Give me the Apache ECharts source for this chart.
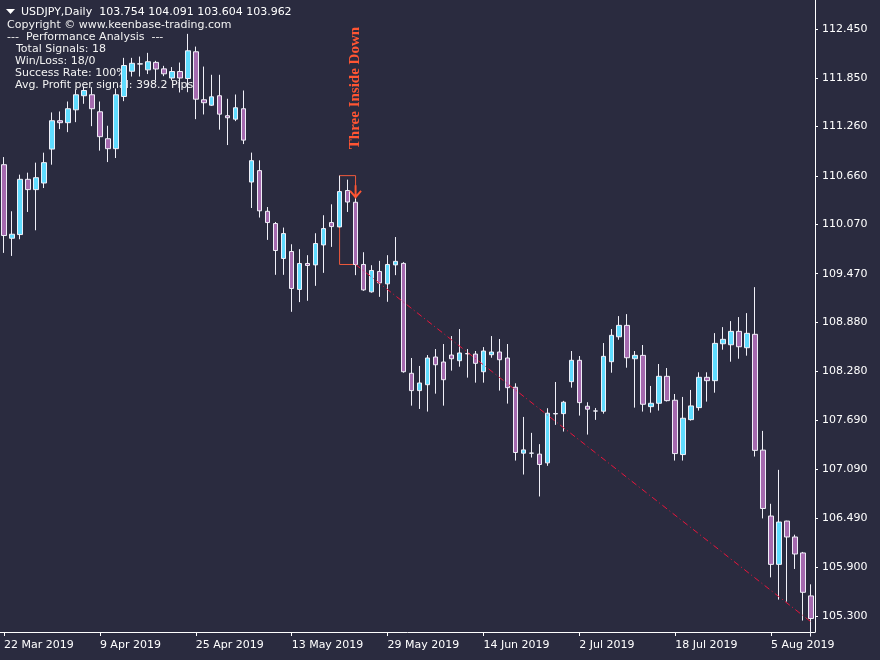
<!DOCTYPE html>
<html>
<head>
<meta charset="utf-8">
<script src="https://cdn.jsdelivr.net/npm/echarts@6/dist/echarts.min.js"></script>
<style>
html,body{margin:0;padding:0;background:#2a2b3f;}
#chart{width:880px;height:660px;}
</style>
</head>
<body>
<div id="chart"></div>
<script>
const categories = [
'22 Mar 2019','25 Mar 2019','26 Mar 2019','27 Mar 2019','28 Mar 2019','29 Mar 2019',
'1 Apr 2019','2 Apr 2019','3 Apr 2019','4 Apr 2019','5 Apr 2019',
'8 Apr 2019','9 Apr 2019','10 Apr 2019','11 Apr 2019','12 Apr 2019',
'15 Apr 2019','16 Apr 2019','17 Apr 2019','18 Apr 2019','19 Apr 2019',
'22 Apr 2019','23 Apr 2019','24 Apr 2019','25 Apr 2019','26 Apr 2019',
'29 Apr 2019','30 Apr 2019','1 May 2019','2 May 2019','3 May 2019',
'6 May 2019','7 May 2019','8 May 2019','9 May 2019','10 May 2019',
'13 May 2019','14 May 2019','15 May 2019','16 May 2019','17 May 2019',
'20 May 2019','21 May 2019','22 May 2019','23 May 2019','24 May 2019',
'27 May 2019','28 May 2019','29 May 2019','30 May 2019','31 May 2019',
'3 Jun 2019','4 Jun 2019','5 Jun 2019','6 Jun 2019','7 Jun 2019',
'10 Jun 2019','11 Jun 2019','12 Jun 2019','13 Jun 2019','14 Jun 2019',
'17 Jun 2019','18 Jun 2019','19 Jun 2019','20 Jun 2019','21 Jun 2019',
'24 Jun 2019','25 Jun 2019','26 Jun 2019','27 Jun 2019','28 Jun 2019',
'1 Jul 2019','2 Jul 2019','3 Jul 2019','4 Jul 2019','5 Jul 2019',
'8 Jul 2019','9 Jul 2019','10 Jul 2019','11 Jul 2019','12 Jul 2019',
'15 Jul 2019','16 Jul 2019','17 Jul 2019','18 Jul 2019','19 Jul 2019',
'22 Jul 2019','23 Jul 2019','24 Jul 2019','25 Jul 2019','26 Jul 2019',
'29 Jul 2019','30 Jul 2019','31 Jul 2019','1 Aug 2019','2 Aug 2019',
'5 Aug 2019','6 Aug 2019','7 Aug 2019','8 Aug 2019','9 Aug 2019',
'12 Aug 2019'
];

const openPrices = [
110.796,109.901,109.946,110.618,110.493,110.573,110.986,111.331,111.307,111.464,
111.635,111.647,111.440,111.112,110.991,111.626,111.933,112.021,111.950,112.041,
111.962,111.851,111.930,111.845,112.170,111.586,111.520,111.635,111.392,111.350,
111.477,110.585,110.724,110.229,110.080,109.655,109.740,109.278,109.594,109.577,
109.820,110.092,110.039,110.482,110.339,109.582,109.249,109.497,109.346,109.577,
109.595,108.258,108.047,108.119,108.456,108.395,108.480,108.411,108.498,108.492,
108.277,108.484,108.517,108.444,108.088,107.286,107.286,107.274,107.168,107.764,
107.767,108.156,108.416,107.857,107.800,107.796,108.399,108.702,108.841,108.435,
108.476,107.852,107.893,108.221,107.930,107.269,107.694,107.840,108.209,108.168,
108.617,108.605,108.768,108.569,108.732,107.323,106.521,105.933,106.460,106.266,
106.072,105.549
];
const closePrices = [
109.934,109.950,110.618,110.493,110.638,110.821,111.331,111.307,111.477,111.647,
111.699,111.477,111.137,110.991,111.647,112.003,112.030,112.023,112.049,111.960,
111.902,111.930,111.851,112.182,111.593,111.550,111.622,111.411,111.367,111.489,
111.095,110.845,110.235,110.092,109.752,109.958,109.290,109.594,109.570,109.837,
110.019,110.043,110.469,110.342,109.582,109.273,109.509,109.358,109.582,109.620,
108.277,108.047,108.140,108.444,108.362,108.180,108.435,108.505,108.495,108.379,
108.529,108.517,108.423,108.083,107.294,107.326,107.287,107.148,107.772,107.768,
107.906,108.416,107.901,107.821,107.798,108.464,108.720,108.841,108.447,108.476,
107.881,107.893,108.221,107.925,107.281,107.711,107.861,108.209,108.168,108.622,
108.671,108.768,108.581,108.744,107.320,106.613,105.933,106.448,106.266,106.059,
105.593,105.274
];
const lowPrices = [
109.723,109.686,109.889,110.221,109.998,110.512,110.796,111.229,111.192,111.314,
111.537,111.265,110.967,110.828,110.877,111.569,111.869,111.869,111.899,111.820,
111.873,111.820,111.675,111.678,111.350,111.407,111.511,111.222,111.035,111.326,
111.047,110.269,110.153,109.881,109.456,109.456,109.006,109.124,109.140,109.322,
109.480,109.796,110.035,110.221,109.452,109.261,109.239,109.188,109.128,109.452,
108.265,107.864,107.824,107.792,108.010,107.864,108.290,108.338,108.205,108.144,
108.144,108.447,108.047,107.889,107.196,107.026,107.233,106.759,107.132,107.630,
107.549,108.083,107.743,107.512,107.691,107.767,108.265,108.666,108.326,107.840,
107.792,107.779,107.804,107.915,107.196,107.196,107.682,107.804,107.913,108.022,
108.545,108.399,108.435,108.472,107.245,106.492,105.775,105.504,105.480,105.877,
105.249,105.055
];
const highPrices = [
110.889,110.229,110.675,110.699,110.821,110.942,111.432,111.444,111.565,111.711,
111.747,111.739,111.565,111.270,111.723,112.096,112.096,112.112,112.157,112.060,
111.999,111.984,112.039,112.388,112.233,111.990,111.890,111.890,111.598,111.650,
111.699,110.943,110.849,110.281,110.099,110.031,109.828,109.768,109.695,109.962,
110.181,110.314,110.663,110.614,110.387,109.731,109.573,109.626,109.695,109.916,
109.610,108.444,108.347,108.480,108.553,108.614,108.711,108.796,108.553,108.529,
108.577,108.711,108.675,108.614,108.136,107.727,107.533,107.396,107.833,108.152,
107.922,108.529,108.468,107.906,107.836,108.626,108.796,108.954,108.978,108.529,
108.602,108.104,108.371,108.322,108.006,107.970,108.055,108.270,108.270,108.747,
108.820,108.893,108.942,108.990,109.306,107.557,106.670,107.083,106.464,106.294,
106.084,105.690
];

const yTickLabels = [105.300,105.900,106.490,107.090,107.690,108.280,108.880,109.470,110.070,110.660,111.260,111.850,112.450];
const yMin = 105.110, yMax = 112.800;

// pattern annotation (Three Inside Down on bars 42..44)
const patternStartIdx = 42, patternEndIdx = 44;
const patternHigh = 110.663, patternLow = 109.582;
const arrowPrice = 110.472;
const patternTextPrice = 111.729;
const patternName = 'Three Inside Down';
// projected target line
const trendIdx = [44, 101];
const trendPrices = [109.582, 105.233];

const headerLines = [
  'USDJPY,Daily  103.754 104.091 103.604 103.962',
  'Copyright \u00A9 www.keenbase-trading.com',
  '---  Performance Analysis  ---',
  'Total Signals: 18',
  'Win/Loss: 18/0',
  'Success Rate: 100%',
  'Avg. Profit per signal: 398.2 Pips'
];

const candleData = categories.map((c, i) => [openPrices[i], closePrices[i], lowPrices[i], highPrices[i]]);
const trendData = trendIdx.map((idx, k) => [categories[idx], trendPrices[k]]);

const chart = echarts.init(document.getElementById('chart'), null, {renderer: 'canvas'});
const FONT = '"DejaVu Sans", Verdana, sans-serif';
const txtColor = '#f2f2f2';
const hx = [21, 7, 7, 16, 15, 15, 15];
const hy = [12.5, 25, 37, 49, 61, 73, 85];

const option = {
  backgroundColor: '#2a2b3f',
  animation: false,
  grid: {left: -1, right: 65, top: 0, bottom: 28, containLabel: false},
  xAxis: {
    type: 'category',
    data: categories,
    boundaryGap: true,
    axisLine: {show: true, lineStyle: {color: '#ffffff', width: 1}},
    axisTick: {show: true, alignWithLabel: true, interval: 11, length: 4, lineStyle: {color: '#ffffff'}},
    axisLabel: {interval: 11, align: 'left', color: '#ffffff', fontFamily: FONT, fontSize: 11, margin: 8},
    splitLine: {show: false}
  },
  yAxis: {
    type: 'value',
    position: 'right',
    min: yMin, max: yMax,
    axisLine: {show: true, lineStyle: {color: '#ffffff', width: 1}},
    axisTick: {show: true, length: 3, customValues: yTickLabels, lineStyle: {color: '#ffffff'}},
    axisLabel: {customValues: yTickLabels, color: '#ffffff', fontFamily: FONT, fontSize: 11, margin: 7,
      formatter: v => v.toFixed(3)},
    splitLine: {show: false}
  },
  graphic: [
    {type: 'polygon', z: 0, shape: {points: [[6, 9], [15, 9], [10.5, 14]]}, style: {fill: '#ffffff'}}
  ].concat(headerLines.map((t, i) => ({
    type: 'text', x: hx[i], y: hy[i], z: 0,
    style: {text: t, fill: i === 0 ? '#ffffff' : txtColor, font: '11px ' + FONT, verticalAlign: 'middle'}
  }))),
  series: [
    {
      type: 'candlestick',
      data: candleData,
      barWidth: 5,
      z: 2,
      itemStyle: {
        color: '#5fdcff', color0: '#a56aaf',
        borderColor: '#f0f0f8', borderColor0: '#f0f0f8', borderColorDoji: '#f0f0f8',
        borderWidth: 1
      },
      markArea: {
        silent: true,
        itemStyle: {color: 'rgba(0,0,0,0)', borderColor: '#f05a3c', borderWidth: 1},
        data: [[{coord: [patternStartIdx, patternHigh]}, {coord: [patternEndIdx, patternLow]}]]
      },
      markPoint: {
        silent: true,
        data: [
          {
            coord: [patternEndIdx, arrowPrice],
            symbol: 'path://M6,0 L6,13 M0,6 L6,13 L12,6',
            symbolSize: [11, 12],
            itemStyle: {color: 'rgba(0,0,0,0)', borderColor: '#ff5533', borderWidth: 2},
            label: {show: false}
          },
          {
            coord: [patternEndIdx, patternTextPrice],
            symbol: 'circle', symbolSize: 1,
            itemStyle: {color: 'rgba(0,0,0,0)'},
            label: {show: true, position: 'inside', rotate: 90, formatter: patternName,
              color: '#ff5533', fontFamily: '"Liberation Serif", "DejaVu Serif", serif', fontWeight: 'bold', fontSize: 15}
          }
        ]
      }
    },
    {
      type: 'line',
      data: trendData,
      z: 3,
      symbol: 'none',
      silent: true,
      lineStyle: {color: '#e8143c', width: 1, type: [6, 3, 1, 3]}
    }
  ]
};
chart.setOption(option);
</script>
</body>
</html>
